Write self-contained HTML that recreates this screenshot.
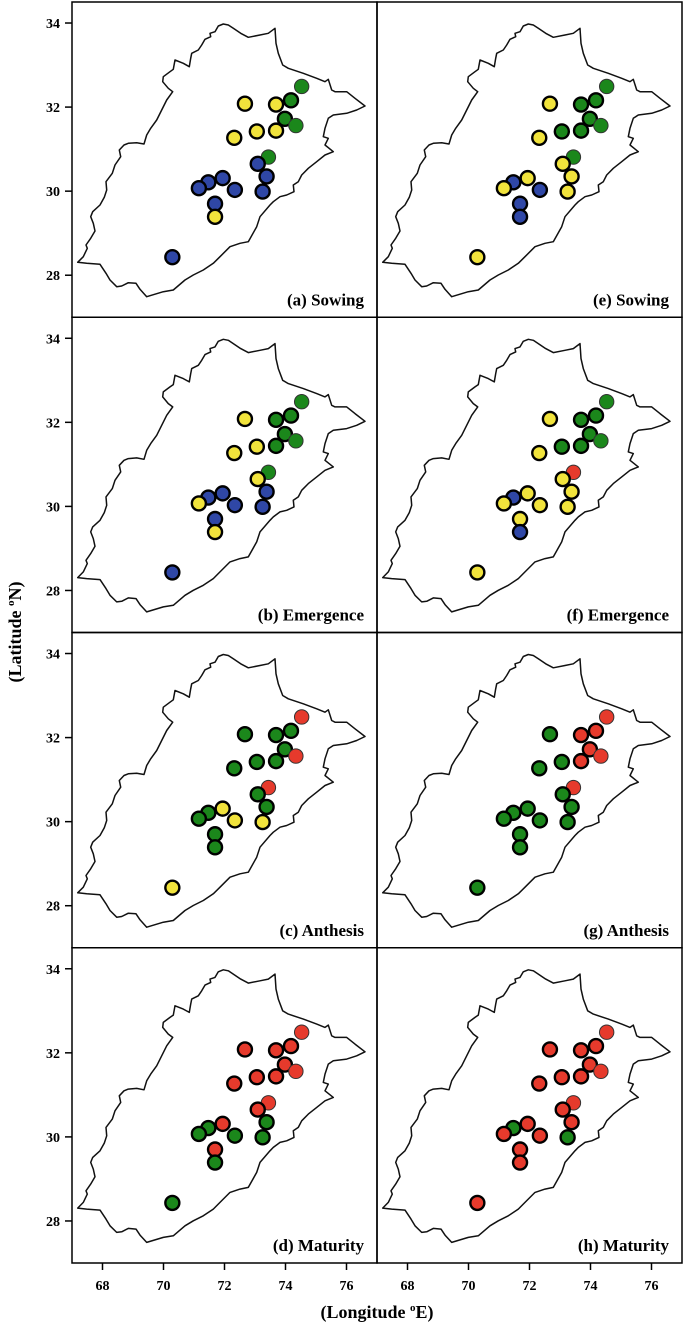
<!DOCTYPE html>
<html><head><meta charset="utf-8"><style>
body{margin:0;background:#fff}
svg{display:block;font-family:"Liberation Serif",serif;font-weight:bold}
</style></head><body>
<svg id="chart" width="685" height="1325" viewBox="0 0 685 1325"></svg>
<script>
const stationLon=[74.53,74.18,72.67,73.69,73.98,74.34,73.06,73.69,72.32,73.44,73.09,73.38,71.94,71.47,71.16,72.34,73.25,71.69,71.69,70.29];
const stationLat=[32.49,32.16,32.08,32.06,31.72,31.56,31.42,31.44,31.27,30.81,30.65,30.35,30.31,30.21,30.07,30.03,29.99,29.70,29.39,28.43];
const panelA="GGYYGGYYYGBBBBBBBBYB";
const panelB="GGYGGGYGYGYBBBYBBBYB";
const panelC="RGGGGRGGGRGGYGGYYGGY";
const panelD="RRRRRRRRRRRGRGGGGRGG";
const panelE="GGYGGGGGYGYYYBYBYBBY";
const panelF="GGYGGGGGYRYYYBYYYYBY";
const panelG="RRGRRRGRGRGGGGGGGGGG";
const panelH="RRRRRRRRRRRRRGRRGRRR";
const panelLabels=["(a) Sowing","(b) Emergence","(c) Anthesis","(d) Maturity","(e) Sowing","(f) Emergence","(g) Anthesis","(h) Maturity"];
const yTicks=[28,30,32,34];
const xTicks=[68,70,72,74,76];
const thinStations=[0,5,9];
const colorMap={B:"#2f47a6",Y:"#f1e33c",G:"#1b871b",R:"#e63a2c"};
const outline=[[233,787],[250,770],[262,745],[258,735],[272,715],[285,693],[280,670],[272,650],[278,635],[300,615],[313,592],[320,570],[318,545],[337,520],[345,495],[362,470],[358,450],[372,435],[385,430],[410,428],[432,432],[440,405],[452,385],[470,360],[485,330],[500,300],[518,275],[505,265],[488,245],[490,230],[510,215],[520,208],[525,180],[550,190],[568,200],[572,175],[575,160],[595,150],[605,135],[615,118],[632,110],[630,100],[645,95],[655,78],[670,72],[685,75],[700,85],[722,100],[745,112],[780,105],[805,100],[825,85],[828,130],[835,160],[848,195],[865,205],[910,220],[950,235],[975,245],[985,238],[995,270],[1005,275],[1040,275],[1065,295],[1095,318],[1070,330],[1040,340],[1000,345],[985,355],[975,385],[970,410],[985,415],[975,435],[1000,455],[975,465],[950,485],[925,505],[905,525],[895,545],[880,555],[882,575],[860,585],[840,590],[820,605],[810,615],[780,650],[770,680],[745,725],[720,730],[690,740],[660,770],[640,790],[610,810],[580,825],[555,840],[520,870],[490,875],[440,890],[420,868],[408,850],[385,848],[365,858],[350,860],[330,840],[318,820],[300,793],[260,790]];
const NS="http://www.w3.org/2000/svg";
const svg=document.getElementById("chart");
function mk(t,a,p){const e=document.createElementNS(NS,t);for(const k in a)e.setAttribute(k,a[k]);(p||svg).appendChild(e);return e;}
const PW=305,PH=315.25,X0=72,Y0=2;
const LON0=67,LON1=77,LAT0=27.0,LAT1=34.5;
function xs(col,lon){return X0+col*PW+(lon-LON0)/(LON1-LON0)*PW;}
function ys(row,lat){return Y0+row*PH+(LAT1-lat)/(LAT1-LAT0)*PH;}
const panels=[panelA,panelB,panelC,panelD,panelE,panelF,panelG,panelH];
panels.forEach((codes,i)=>{
  const col=Math.floor(i/4),row=i%4;
  const g=mk("g",{});
  
  
  const ox=X0+col*PW,oy=Y0+row*PH;
  const pts=outline.map(p=>(ox+(p[0]/3-72)).toFixed(1)+","+(oy+(p[1]/3-2)).toFixed(1)).join(" ");
  const poly=mk("polygon",{points:pts,fill:"none",stroke:"#111","stroke-width":1.5,"stroke-linejoin":"round"},g);
  
  
  codes.split("").forEach((c,k)=>{
    const thin=thinStations.includes(k);
    const m=mk("circle",{cx:xs(col,stationLon[k]),cy:ys(row,stationLat[k]),r:thin?7.2:7,fill:colorMap[c],stroke:thin?"#333":"#000","stroke-width":thin?1:2.4},g);
    
    
  });
  const lb=mk("text",{x:ox+PW-13,y:oy+PH-12,"text-anchor":"end","font-size":17},g);
  lb.textContent=panelLabels[i];
  
  
  const fr=mk("rect",{x:ox,y:oy,width:PW,height:PH,fill:"none",stroke:"#000","stroke-width":1.5},g);
  
  
  if(col===0){
    yTicks.forEach(v=>{
      const y=ys(row,v);
      const tl=mk("line",{x1:ox-7,x2:ox,y1:y,y2:y,stroke:"#000","stroke-width":1.5});
      
      
      const t=mk("text",{x:ox-12,y:y+5,"text-anchor":"end","font-size":14});
      t.textContent=v;
      
      
    });
  }
  if(row===3){
    xTicks.forEach(v=>{
      const x=xs(col,v),yb=oy+PH;
      const tl=mk("line",{x1:x,x2:x,y1:yb,y2:yb+7,stroke:"#000","stroke-width":1.5});
      
      
      const t=mk("text",{x:x,y:yb+27,"text-anchor":"middle","font-size":14});
      t.textContent=v;
      
      
    });
  }
});
const xt=mk("text",{x:377,y:1318,"text-anchor":"middle","font-size":18});
xt.innerHTML='(Longitude <tspan dy="-7" font-size="11">o</tspan><tspan dy="7">E)</tspan>';


const yt=mk("text",{x:0,y:0,"text-anchor":"middle","font-size":18,transform:"translate(21,632) rotate(-90)"});
yt.innerHTML='(Latitude <tspan dy="-7" font-size="11">o</tspan><tspan dy="7">N)</tspan>';


</script>
</body></html>
